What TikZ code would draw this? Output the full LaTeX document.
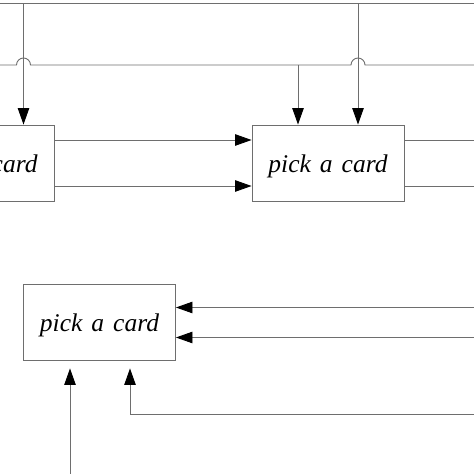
\documentclass[tikz,border=0pt]{standalone}
\usepackage{fontspec}
\setmainfont{Liberation Serif}
\usetikzlibrary{arrows.meta}
\definecolor{linegray}{HTML}{6E6E6E}
\newcommand{\cardfont}{\fontsize{25.5}{30}\selectfont\itshape\spaceskip=9pt\relax}
\newcommand{\cardtext}{\raisebox{-3pt}[\height][\depth]{pick a card}}
\begin{document}
\begin{tikzpicture}[x=1pt, y=1pt, line width=0.9pt,
  card node/.style={rectangle, draw=linegray, minimum width=152pt, minimum height=76pt, inner sep=0pt},
  flow/.style={draw=linegray, -{Triangle[length=16.5pt,width=11.5pt,black]}}]
        \tikzstyle{every node}=[font=\cardfont]
        \useasboundingbox (0,0) rectangle (474,474);
        \clip (0,0) rectangle (474,474);

          \node[card node] (1) at (-22,311) {\cardtext};
          \node[card node] (2) at (328,311) {\cardtext};
          \node[card node] (3) at (99.5,152) {\cardtext};

          % feed lines along the top
          \coordinate (t1) at (23.5,470.5);
          \coordinate (t2) at (358,470.5);
          \coordinate (m1) at (298,409);
          \draw[linegray] (0,470.5) -- (474,470.5);
          \draw[linegray] (0,409) -- (16.5,409) arc[start angle=180, end angle=0, radius=7pt]
            -- (351,409) arc[start angle=180, end angle=0, radius=7pt] -- (474,409);

          \draw[flow] (t1) -- (t1 |- 1.north);
          \draw[flow] (m1) -- (m1 |- 2.north);
          \draw[flow] (t2) -- (t2 |- 2.north);

          \draw[flow] ([yshift=23pt]1.east) -- ([yshift=23pt]2.west);
          \draw[flow] ([yshift=-23pt]1.east) -- ([yshift=-23pt]2.west);
          \draw[linegray] ([yshift=23pt]2.east) -- +(80,0);
          \draw[linegray] ([yshift=-23pt]2.east) -- +(80,0);

          % inputs of the lower card
          \coordinate (r1) at (474,166.5);
          \coordinate (r2) at (474,136.5);
          \coordinate (b1) at (70,0);
          \coordinate (b2) at (474,60);
          \draw[flow] (r1) -- (r1 -| 3.east);
          \draw[flow] (r2) -- (r2 -| 3.east);
          \draw[flow, shorten >=8pt] (b1) -- (b1 |- 3.south);
          \draw[flow, shorten >=8pt] (b2) -| ([xshift=30.5pt]3.south);

        \end{tikzpicture}
\end{document}
